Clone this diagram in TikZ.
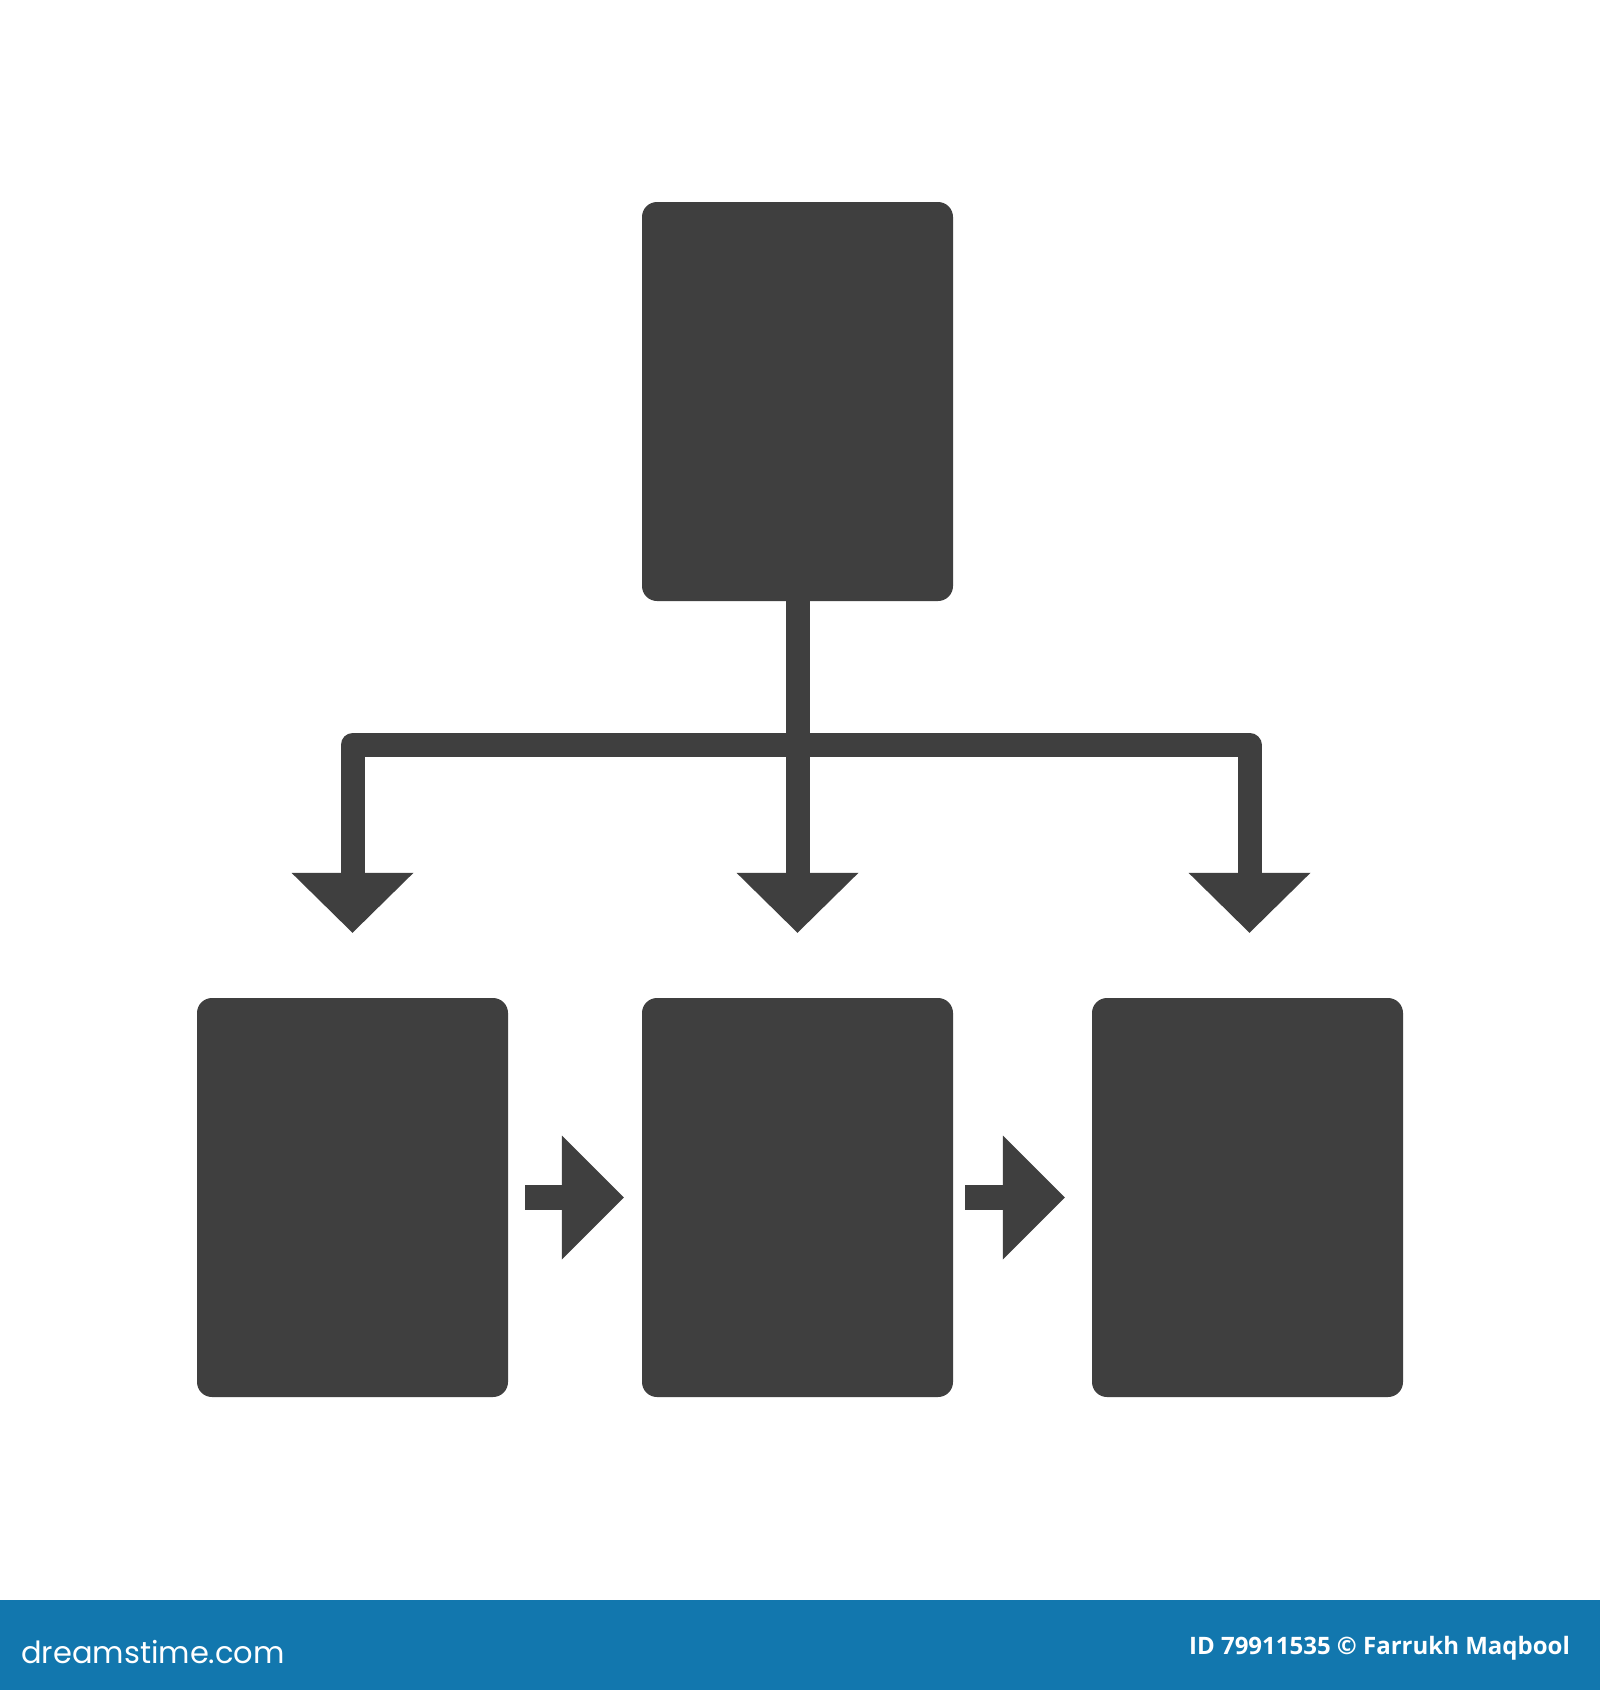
\documentclass[tikz,border=0pt]{standalone}
\usepackage{fontspec}
\newfontfamily\brandfont{Poppins}
\newfontfamily\idfont{Open Sans}
\usetikzlibrary{arrows.meta}
\definecolor{ink}{HTML}{3F3F3F}
\definecolor{bar}{HTML}{1277AE}
\tikzset{
  block/.style={fill=ink, draw=none, rounded corners=15pt, minimum width=311pt, minimum height=399pt, inner sep=0pt},
  conn/.style={draw=ink, line width=24pt, line join=round},
  downtip/.style={-{Triangle[width=122pt,length=60pt,line width=0pt]}},
  sidetip/.style={-{Triangle[width=124pt,length=62pt,line width=0pt]}},
}
\begin{document}
\begin{tikzpicture}[x=1pt,y=-1pt]
\useasboundingbox (0,0) rectangle (1600,1690);
\fill[white] (0,0) rectangle (1600,1690);
% boxes
\node[block] (top) at (797.5,401.5) {};
\node[block] (left) at (352.5,1197.5) {};
\node[block] (mid) at (797.5,1197.5) {};
\node[block] (right) at (1247.5,1197.5) {};
\coordinate (junction) at (797.5,745);
% connectors
\draw[conn] (top.south) -- (junction);
\draw[conn, downtip, shorten >=65pt] (top.south) -- (mid.north);
\draw[conn, downtip] (junction) -| ([yshift=65pt]left.north);
\draw[conn, downtip] (junction) -| ([xshift=2pt,yshift=65pt]right.north);
\draw[conn, sidetip, line width=25pt, shorten <=17pt, shorten >=18pt] (left.east) -- (mid.west);
\draw[conn, sidetip, line width=25pt, shorten <=12pt, shorten >=27pt] (mid.east) -- (right.west);
% bottom bar
\fill[bar] (0,1600) rectangle (1600,1690);
\node[anchor=base west, inner sep=0pt, text=white, font=\brandfont\fontsize{30.5}{34}\selectfont] (brand) at (21,1663) {dreamstime.com};
\node[anchor=base east, inner sep=0pt, text=white, font=\idfont\bfseries\fontsize{24}{28}\selectfont] (credit) at (1570,1654) {ID 79911535 © Farrukh Maqbool};
\end{tikzpicture}
\end{document}
